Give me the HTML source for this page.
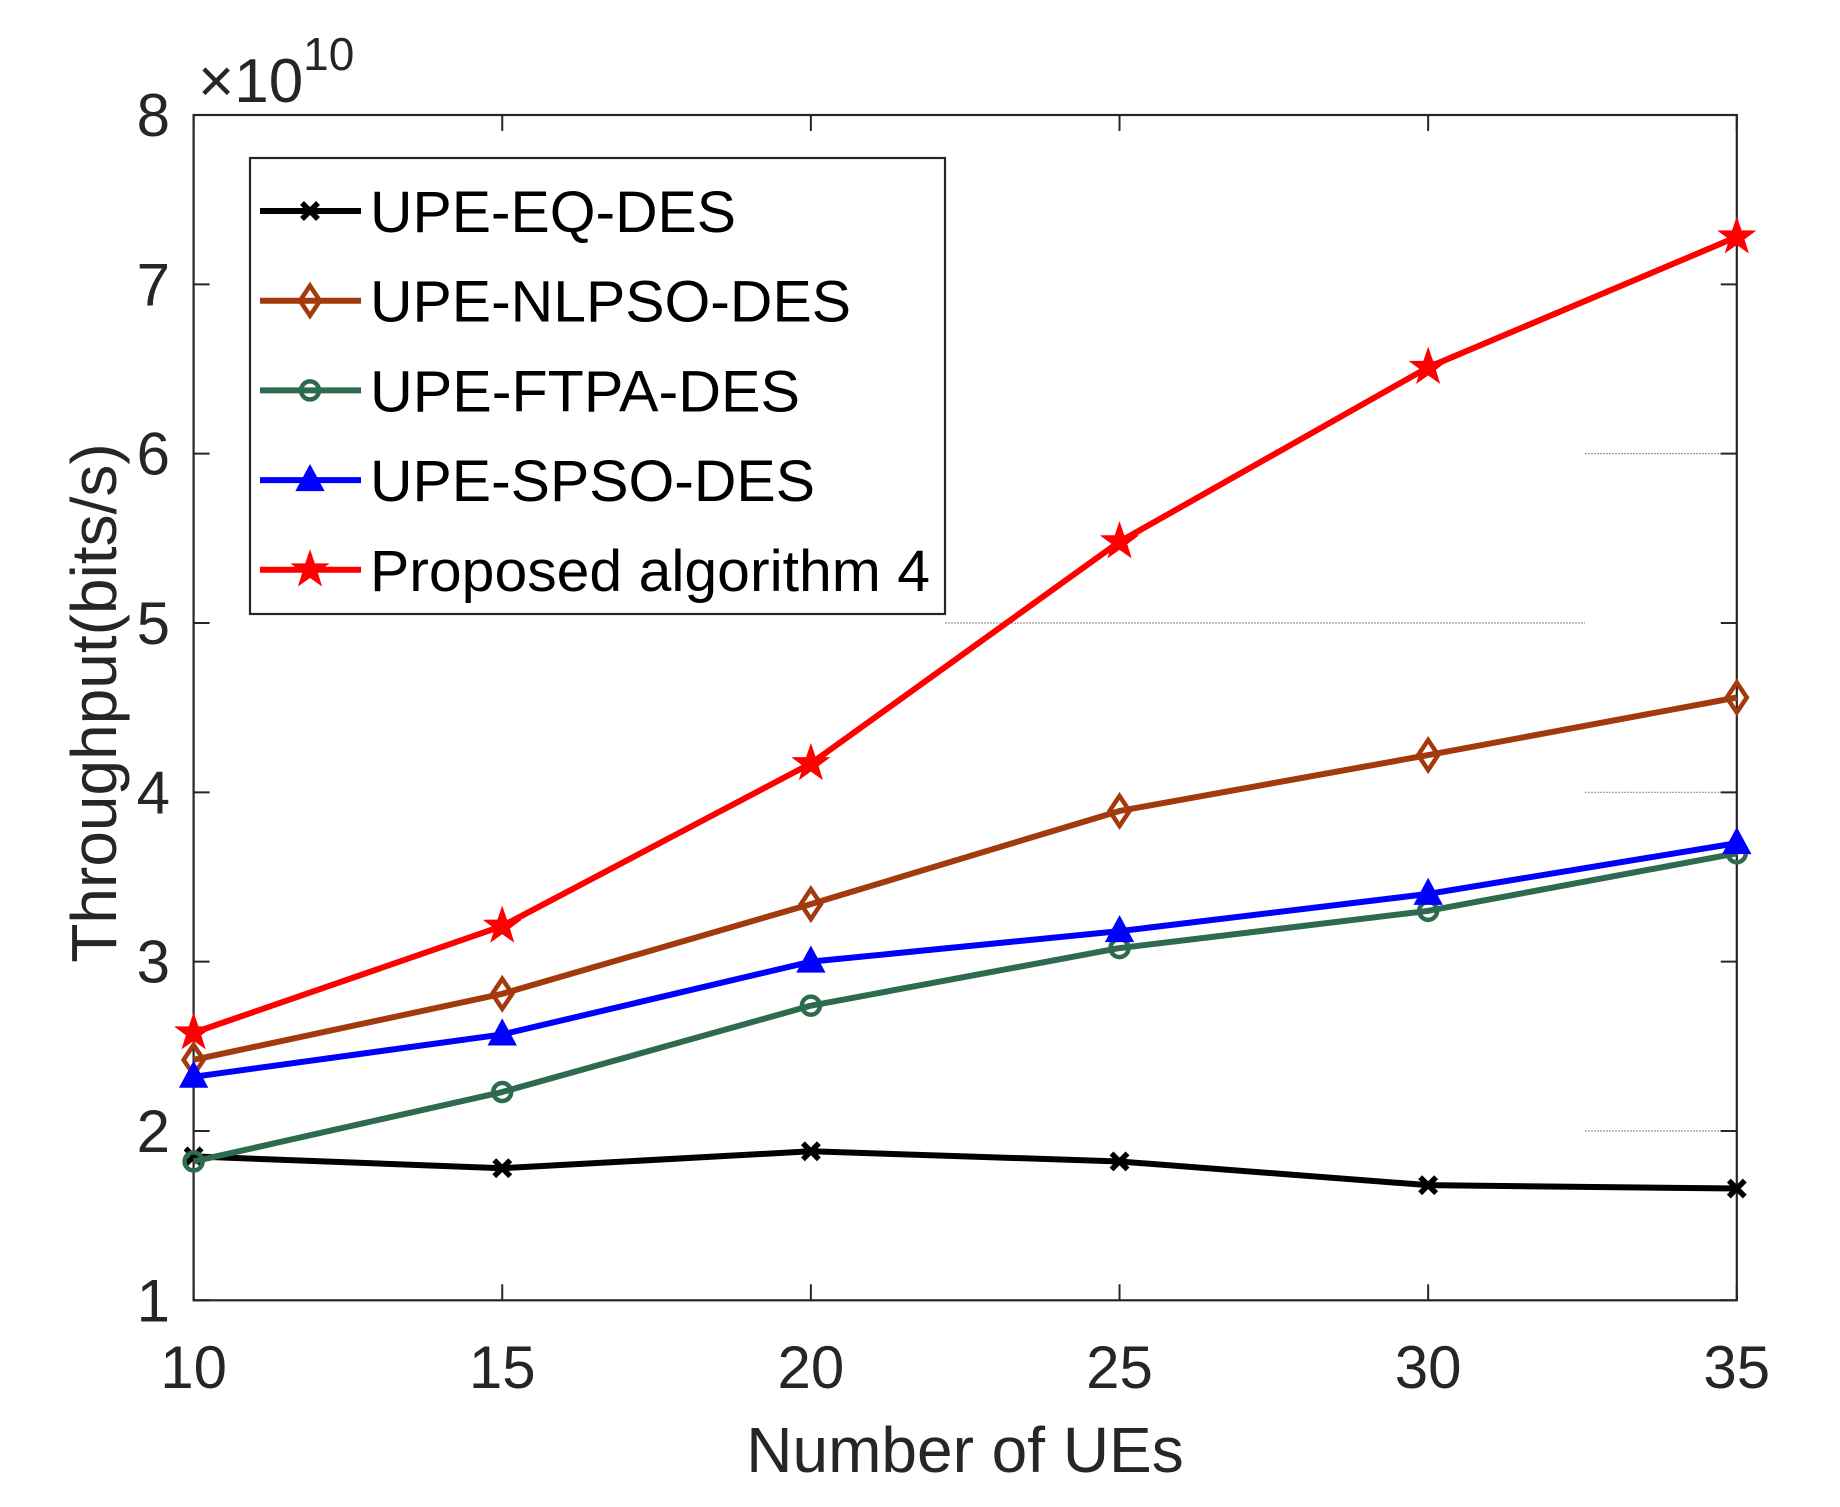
<!DOCTYPE html>
<html><head><meta charset="utf-8"><style>
html,body{margin:0;padding:0;background:#fff;}
svg{display:block;font-family:"Liberation Sans",Arial,sans-serif;}
</style></head><body>
<svg id="s" width="1840" height="1507" viewBox="0 0 1840 1507" xmlns="http://www.w3.org/2000/svg">
<rect width="1840" height="1507" fill="#fff"/>
<g id="g"></g>
</svg>
<script>
const NS="http://www.w3.org/2000/svg";
const g=document.getElementById('g');
const L=193.6,R=1736.8,T=115,B=1300.3;
const X=i=>L+(R-L)*i/5, Y=v=>B-(v-1)*(B-T)/7;
function el(t,a,txt){const e=document.createElementNS(NS,t);for(const k in a)e.setAttribute(k,a[k]);if(txt!==undefined)e.textContent=txt;g.appendChild(e);return e;}
el('line',{x1:945,y1:Y(5),x2:1585,y2:Y(5),stroke:'#999','stroke-width':1.2,'stroke-dasharray':'2 1'});
[6,4,2].forEach(v=>el('line',{x1:1585,y1:Y(v),x2:R,y2:Y(v),stroke:'#999','stroke-width':1.2,'stroke-dasharray':'2 1'}));
el('rect',{x:L,y:T,width:R-L,height:B-T,fill:'none',stroke:'#262626','stroke-width':2.2});
for(let i=0;i<6;i++){const x=X(i);el('line',{x1:x,y1:B,x2:x,y2:B-16,stroke:'#262626','stroke-width':2});el('line',{x1:x,y1:T,x2:x,y2:T+16,stroke:'#262626','stroke-width':2});
el('text',{x:x,y:1388,'font-size':60,'text-anchor':'middle',fill:'#262626'},String(10+5*i));}
for(let v=1;v<=8;v++){const y=Y(v);el('line',{x1:L,y1:y,x2:L+16,y2:y,stroke:'#262626','stroke-width':2});el('line',{x1:R,y1:y,x2:R-16,y2:y,stroke:'#262626','stroke-width':2});
el('text',{x:170,y:y+21,'font-size':60,'text-anchor':'end',fill:'#262626'},String(v));}
el('text',{x:965,y:1472,'font-size':64,'text-anchor':'middle',fill:'#262626'},'Number of UEs');
el('text',{x:0,y:0,'font-size':64,'text-anchor':'middle',fill:'#262626',transform:'translate(116,703) rotate(-90)'},'Throughput(bits/s)');
const t=el('text',{x:198,y:102,'font-size':62,fill:'#262626'},'×10');
const sup=document.createElementNS(NS,'tspan');sup.setAttribute('dy','-32');sup.setAttribute('font-size','46');sup.textContent='10';t.appendChild(sup);
function mk(type,x,y,c){
 if(type==='x'){el('path',{d:`M${x-8} ${y-8}L${x+8} ${y+8}M${x-8} ${y+8}L${x+8} ${y-8}`,stroke:c,'stroke-width':5.5});}
 else if(type==='d'){el('path',{d:`M${x} ${y-15}L${x+10} ${y}L${x} ${y+15}L${x-10} ${y}Z`,fill:'none',stroke:c,'stroke-width':4.5});}
 else if(type==='o'){el('circle',{cx:x,cy:y,r:9,fill:'none',stroke:c,'stroke-width':4.5});}
 else if(type==='t'){el('path',{d:`M${x} ${y-14}L${x+13} ${y+10}L${x-13} ${y+10}Z`,fill:c,stroke:c,'stroke-width':2});}
 else if(type==='s'){let p='';for(let k=0;k<10;k++){const r=k%2?7.5:19;const a=-Math.PI/2+k*Math.PI/5;p+=(k?'L':'M')+(x+r*Math.cos(a)).toFixed(1)+' '+(y+r*Math.sin(a)).toFixed(1);}el('path',{d:p+'Z',fill:c,stroke:c,'stroke-width':1});}
}
const S=[
 {n:'UPE-EQ-DES',c:'#000000',m:'x',d:[1.85,1.78,1.88,1.82,1.68,1.66]},
 {n:'UPE-NLPSO-DES',c:'#A33A0D',m:'d',d:[2.42,2.81,3.34,3.89,4.22,4.56]},
 {n:'UPE-FTPA-DES',c:'#2E6B4E',m:'o',d:[1.82,2.23,2.74,3.08,3.30,3.64]},
 {n:'UPE-SPSO-DES',c:'#0000FF',m:'t',d:[2.32,2.57,3.00,3.18,3.40,3.70]},
 {n:'Proposed algorithm 4',c:'#FF0000',m:'s',d:[2.58,3.21,4.17,5.48,6.51,7.28]}];
S.forEach(s=>{el('polyline',{points:s.d.map((v,i)=>X(i)+','+Y(v)).join(' '),fill:'none',stroke:s.c,'stroke-width':6,'stroke-linejoin':'round'});
 s.d.forEach((v,i)=>mk(s.m,X(i),Y(v),s.c));});
el('rect',{x:250,y:158,width:695,height:456,fill:'#fff',stroke:'#262626','stroke-width':2.2});
const W=[366,481,430,445,560];
S.forEach((s,k)=>{const y=211+k*89.7;el('line',{x1:260,y1:y,x2:361,y2:y,stroke:s.c,'stroke-width':6});mk(s.m,310,y,s.c);
 el('text',{x:370,y:y+21,'font-size':58,fill:'#000',textLength:W[k],lengthAdjust:'spacingAndGlyphs'},s.n);});
</script>
</body></html>
